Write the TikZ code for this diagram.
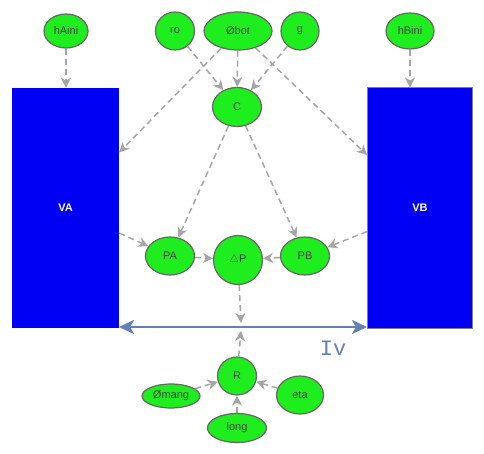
\documentclass[tikz,border=0pt]{standalone}
\usepackage{fontspec}
\setmainfont{Liberation Sans}
\newfontfamily\ivfont{Liberation Mono}
\usetikzlibrary{arrows.meta,shapes.geometric}
\definecolor{vargreen}{RGB}{30,238,30}
\definecolor{tankblue}{RGB}{0,0,245}
\definecolor{ivblue}{RGB}{100,128,185}
\definecolor{depgray}{RGB}{165,165,165}
\tikzset{
  var/.style={ellipse, draw=black!60, line width=1.2pt, fill=vargreen, inner sep=0pt,
    text=black!75, font=\fontsize{11}{12}\selectfont},
  tank/.style={rectangle, fill=tankblue, inner sep=0pt, text=white,
    font=\bfseries\fontsize{11}{12}\selectfont, minimum height=240pt},
  dep/.style={depgray, line width=1.5pt, dash pattern=on 6pt off 4pt,
    -{Stealth[length=10pt,width=10pt,inset=3pt]}},
  ivline/.style={ivblue, line width=2.8pt,
    {Stealth[length=15pt,width=14pt,inset=4pt]}-{Stealth[length=15pt,width=14pt,inset=4pt]}},
}
\begin{document}
\begin{tikzpicture}[x=1pt,y=-1pt]
    \useasboundingbox (0,0) rectangle (484,454);

    % tanks
    \node[tank, minimum width=107pt] (VA) at (65.5,208) {VA};
    \node[tank, draw=black!50, line width=1pt, minimum width=105pt] (VB) at (420,208) {VB};

    % inputs
    \node[var, minimum width=44pt, minimum height=34pt] (hAini) at (66,31) {hAini};
    \node[var, minimum width=39pt, minimum height=38pt] (ro) at (175,31) {ro};
    \node[var, minimum width=68pt, minimum height=38pt] (obot) at (238,31) {Øbot};
    \node[var, minimum width=38pt, minimum height=38pt] (g) at (300,31) {g};
    \node[var, minimum width=48pt, minimum height=36pt] (hBini) at (410,31) {hBini};

    % intermediate
    \node[var, minimum width=49pt, minimum height=39pt] (C) at (237,107) {C};
    \node[var, minimum width=49pt, minimum height=38pt] (PA) at (170,256) {PA};
    \node[var, minimum width=49pt, minimum height=49pt] (dP) at (238,260) {$\triangle$P};
    \node[var, minimum width=49pt, minimum height=38pt] (PB) at (305,256) {PB};

    % resistance
    \node[var, minimum width=39pt, minimum height=38pt] (R) at (237,376) {R};
    \node[var, minimum width=58pt, minimum height=24pt] (omang) at (171,396) {Ømang};
    \node[var, minimum width=47pt, minimum height=38pt] (eta) at (300,395) {eta};
    \node[var, minimum width=59pt, minimum height=29pt] (long) at (237,428) {long};

    % flow
    \coordinate (ivL) at (119,327);
    \coordinate (ivR) at (367,327);
    \coordinate (ivTop) at (241,323);
    \coordinate (ivBot) at (241,331);
    \draw[ivline] (ivL) -- (ivR);
    \node[text=ivblue, font=\ivfont\fontsize{22}{24}\selectfont] (Iv) at (333,348) {Iv};

    % links
    \draw[dep] (hAini) -- (hAini |- VA.north);
    \draw[dep] (hBini) -- (hBini |- VB.north);
    \draw[dep] (ro) -- (C);
    \draw[dep] (obot) -- (C);
    \draw[dep] (g) -- (C);
    \draw[dep] (obot) -- (VA.46);
    \draw[dep] (obot) -- (VB.135);
    \draw[dep] (C) -- (PA);
    \draw[dep] (C) -- (PB);
    \draw[dep] (VA.-25) -- (PA);
    \draw[dep] (VB.204) -- (PB);
    \draw[dep] (PA) -- (dP);
    \draw[dep] (PB) -- (dP);
    \draw[dep] (dP) -- (ivTop);
    \draw[dep] (R) -- (ivBot);
    \draw[dep] (omang) -- (R);
    \draw[dep] (eta) -- (R);
    \draw[dep] (long) -- (R);
\end{tikzpicture}
\end{document}
